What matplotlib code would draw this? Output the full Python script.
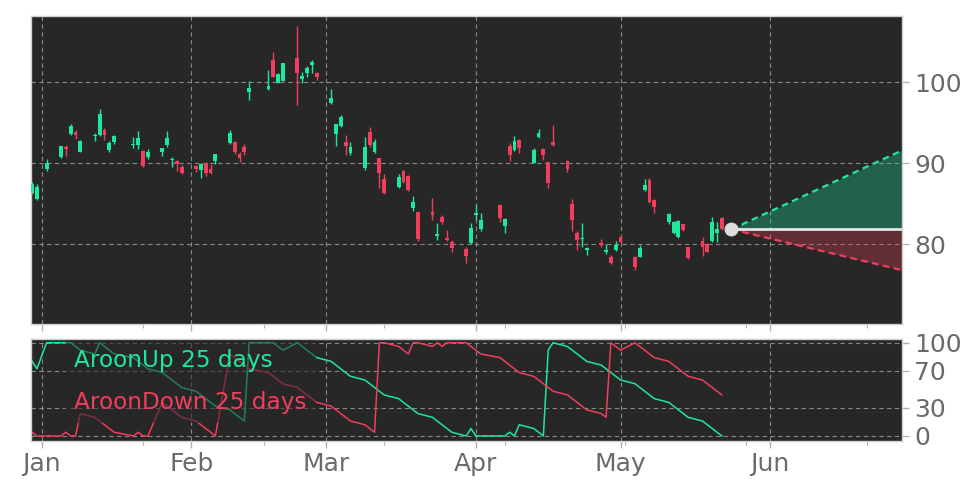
import numpy as np
import pandas as pd
import matplotlib
matplotlib.use("Agg")
import matplotlib.pyplot as plt
import matplotlib.dates as mdates
from matplotlib.ticker import MultipleLocator

# trading days shown on the chart
holidays = ['2026-01-01', '2026-01-19', '2026-02-16', '2026-04-03']
dates = pd.bdate_range('2025-12-30', '2026-05-22', freq='C', holidays=holidays)

opens = np.array([
    86.3, 85.6, 89.3, 90.8, 92.0, 93.6, 93.9, 91.4, 93.4, 93.5,
    94.1, 91.7, 92.6, 92.2, 92.2, 91.5, 90.75, 91.35, 92.3, 90.4,
    90.3, 89.6, 89.7, 89.2, 90.0, 89.3, 90.3, 92.5, 92.6, 91.2,
    92.0, 98.85, 99.15, 102.75, 99.96, 100.2, 103.05, 100.4, 101.1, 102.1,
    101.2, 97.4, 93.6, 94.6, 92.67, 91.23, 89.47, 93.87, 91.4, 90.62,
    88.02, 87.12, 89.1, 88.44, 84.44, 83.95, 84.03, 81.03, 83.33, 80.75,
    80.25, 79.42, 80.21, 83.66, 81.85, 84.86, 82.26, 92.18, 91.65, 92.88,
    90.08, 93.3, 91.73, 90.12, 92.59, 90.33, 84.98, 81.36, 80.66, 79.3,
    80.2, 79.0, 78.48, 79.3, 80.86, 78.4, 78.48, 86.7, 87.94, 85.47,
    82.8, 81.36, 80.86, 82.5, 79.63, 80.41, 80.0, 80.45, 81.44, 83.2])
highs = np.array([
    87.7, 87.4, 90.5, 92.1, 92.3, 94.8, 94.1, 92.9, 93.7, 96.7,
    94.3, 92.7, 93.5, 93.3, 94.0, 91.6, 91.8, 91.85, 94.0, 90.8,
    90.4, 89.8, 89.8, 90.0, 90.1, 89.9, 91.2, 94.1, 92.7, 91.4,
    92.4, 100.1, 101.5, 103.7, 101.1, 102.4, 106.9, 101.3, 102.0, 102.7,
    101.3, 99.2, 94.9, 95.97, 93.5, 92.67, 93.2, 94.5, 93.0, 90.7,
    88.7, 88.7, 89.2, 88.56, 86.0, 84.03, 85.76, 82.67, 83.6, 81.77,
    80.53, 79.7, 82.6, 84.94, 83.9, 84.94, 83.2, 92.47, 93.37, 92.96,
    91.85, 94.24, 91.85, 90.2, 94.73, 90.41, 85.6, 81.69, 82.67, 79.7,
    80.66, 80.0, 78.68, 80.45, 81.15, 78.56, 79.92, 88.02, 88.15, 85.55,
    83.83, 82.88, 83.0, 82.5, 79.7, 80.86, 80.12, 83.42, 82.8, 83.33])
lows = np.array([
    86.2, 85.5, 89.05, 90.7, 90.9, 93.5, 93.0, 91.4, 92.8, 93.4,
    92.9, 91.4, 92.4, 91.9, 91.8, 89.5, 90.5, 90.9, 92.05, 89.6,
    89.0, 88.7, 88.9, 88.2, 88.4, 88.7, 89.9, 92.4, 91.2, 90.1,
    91.0, 97.8, 99.05, 100.6, 99.9, 100.1, 97.2, 99.9, 100.6, 101.1,
    100.3, 97.3, 92.1, 94.5, 91.0, 91.0, 89.2, 92.06, 91.3, 86.9,
    86.2, 87.0, 87.6, 86.6, 84.15, 80.4, 83.0, 80.53, 82.5, 80.45,
    79.1, 77.74, 80.05, 83.0, 81.7, 82.8, 81.44, 90.3, 91.56, 91.3,
    90.0, 93.09, 90.4, 87.0, 92.18, 88.9, 81.69, 79.3, 79.63, 78.7,
    79.7, 78.8, 77.57, 79.2, 80.2, 76.83, 78.4, 86.62, 85.06, 83.83,
    82.5, 81.28, 80.74, 81.7, 78.15, 78.6, 79.0, 80.33, 80.33, 81.77])
closes = np.array([
    87.5, 87.1, 90.0, 92.1, 91.8, 94.6, 93.5, 92.8, 93.5, 96.1,
    93.5, 92.5, 93.4, 92.3, 93.1, 89.7, 91.45, 91.85, 93.1, 90.5,
    89.9, 88.8, 89.25, 89.9, 88.85, 88.77, 91.1, 93.8, 91.35, 90.6,
    91.45, 99.34, 99.55, 100.7, 101.03, 102.35, 101.2, 100.8, 101.8, 102.55,
    100.6, 98.0, 94.8, 95.76, 92.14, 92.06, 92.06, 92.26, 92.63, 88.85,
    86.38, 88.35, 87.7, 86.7, 85.27, 80.66, 83.62, 81.28, 82.7, 80.53,
    79.5, 78.56, 81.98, 83.9, 83.0, 83.2, 83.09, 91.03, 92.8, 91.93,
    91.65, 93.7, 91.03, 87.53, 92.26, 89.3, 83.0, 80.53, 80.82, 79.59,
    79.9, 79.3, 77.74, 79.92, 80.33, 77.24, 79.5, 87.33, 85.27, 84.57,
    83.74, 82.8, 82.88, 81.77, 78.27, 79.71, 79.09, 82.72, 81.9, 81.85])

aroon_up = np.array([
    80, 72, 100, 100, 100, 100, 96, 92, 88, 100,
    96, 92, 88, 84, 80, 76, 72, 68, 64, 60,
    56, 52, 48, 44, 40, 36, 32, 28, 24, 20,
    16, 100, 100, 100, 96, 92, 100, 96, 92, 88,
    84, 80, 76, 72, 68, 64, 60, 56, 52, 48,
    44, 40, 36, 32, 28, 24, 20, 16, 12, 8,
    4, 0, 8, 0, 0, 0, 0, 4, 0, 12,
    8, 4, 0, 92, 100, 96, 92, 88, 84, 80,
    76, 72, 68, 64, 60, 56, 52, 48, 44, 40,
    36, 32, 28, 24, 20, 16, 12, 8, 4, 0])
aroon_down = np.array([
    4, 0, 0, 0, 4, 0, 0, 24, 20, 16,
    12, 8, 4, 0, 4, 0, 0, 36, 32, 28,
    24, 20, 16, 12, 8, 4, 0, 88, 84, 80,
    76, 72, 68, 64, 60, 56, 52, 48, 44, 40,
    36, 32, 28, 24, 20, 16, 12, 8, 4, 100,
    100, 96, 92, 88, 100, 100, 96, 100, 96, 100,
    100, 100, 96, 92, 88, 84, 80, 76, 72, 68,
    64, 60, 56, 52, 48, 44, 40, 36, 32, 28,
    24, 20, 100, 96, 92, 100, 96, 92, 88, 84,
    80, 76, 72, 68, 64, 60, 56, 52, 48, 44])

# projection cone at the right edge
proj_high = 91.6
proj_low = 76.8
proj_start = dates[-1] + pd.Timedelta(days=2)
x_left = pd.Timestamp('2025-12-29 17:00')
x_right = pd.Timestamp('2026-06-28 10:00')

GREEN = '#1ee89c'
RED = '#f03e5c'
BG = '#272727'
TXT = '#6a6a6a'

fig = plt.figure(figsize=(9.72, 4.86), dpi=100)
fig.patch.set_facecolor('white')
W, H = 972.0, 486.0
ax = fig.add_axes([30.7 / W, 1 - 324 / H, 871.6 / W, 308.3 / H])
ax2 = fig.add_axes([30.7 / W, 1 - 441 / H, 871.6 / W, 102 / H], sharex=ax)

# candles
up = closes >= opens
cols = np.where(up, GREEN, RED)
ax.vlines(dates, lows, highs, color=cols, lw=1, zorder=2)
body_low = np.minimum(opens, closes)
body_h = np.maximum(np.abs(closes - opens), 0.15)
ax.bar(dates, body_h, bottom=body_low, width=0.8, color=cols, lw=0, zorder=3)

last = closes[-1]
xs = [proj_start, x_right]
ax.fill_between(xs, [last, last], [last, proj_high], color=GREEN, alpha=0.3, lw=0, zorder=2)
ax.fill_between(xs, [last, last], [last, proj_low], color=RED, alpha=0.3, lw=0, zorder=2)
ax.plot(xs, [last, proj_high], color=GREEN, lw=1.6, dashes=(3, 2), zorder=3)
ax.plot(xs, [last, proj_low], color=RED, lw=1.6, dashes=(3, 2), zorder=3)
ax.plot(xs, [last, last], color='#e4e4e4', lw=2, zorder=3)
ax.plot([proj_start], [last], 'o', color='#dcdcdc', ms=9, zorder=5)

# aroon panel
l_up, = ax2.plot(dates, aroon_up, color=GREEN, lw=1.1)
l_dn, = ax2.plot(dates, aroon_down, color=RED, lw=1.1)
leg = ax2.legend([l_up, l_dn], ['AroonUp 25 days', 'AroonDown 25 days'],
                 loc='upper left', bbox_to_anchor=(0.0395, 0.99), borderaxespad=0,
                 handlelength=0, handletextpad=0, fontsize=16.7, labelspacing=0.8,
                 frameon=True, facecolor=BG, edgecolor='none', framealpha=0.55)
for t, c in zip(leg.get_texts(), [GREEN, RED]):
    t.set_color(c)

ax.set_ylim(70.16, 108.22)
ax.set_yticks([80, 90, 100])
ax2.set_ylim(-5.4, 104)
ax2.set_yticks([0, 30, 70, 100])
ax.set_xlim(x_left, x_right)

for a in (ax, ax2):
    a.set_facecolor(BG)
    a.yaxis.tick_right()
    a.xaxis.set_major_locator(mdates.MonthLocator())
    a.xaxis.set_major_formatter(mdates.DateFormatter('%b'))
    a.xaxis.set_minor_locator(MultipleLocator(25))
    a.tick_params(which='major', length=5, width=1, color='#b0b0b0', labelcolor=TXT, labelsize=18)
    a.tick_params(which='minor', length=3, width=0.8, color='#b0b0b0')
    a.grid(True, which='major', color='#a0a0a0', lw=0.8, ls=(0, (4, 3)), alpha=0.8)
    a.set_axisbelow(True)
    for s in a.spines.values():
        s.set_color('#cfcfcf')
        s.set_linewidth(1)
ax.tick_params(axis='x', labelbottom=False)
ax2.tick_params(axis='x', pad=3)

fig.savefig('out.png', dpi=100, facecolor='white')
